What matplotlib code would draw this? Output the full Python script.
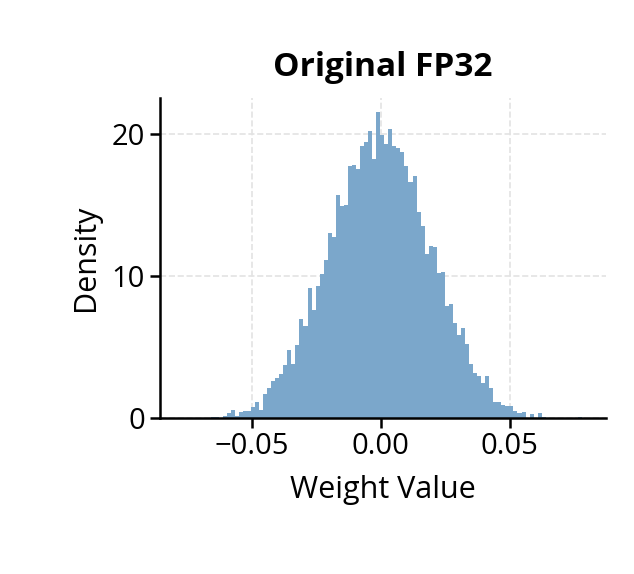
import numpy as np
import matplotlib
matplotlib.use("Agg")
import matplotlib.pyplot as plt

plt.rcParams['font.family'] = ['Open Sans', 'DejaVu Sans']

x_min, x_max = -0.0660, 0.0780
density = [0.07, 0.07, 0, 0.14, 0.36, 0.57, 0.14, 0.43, 0.5, 0.5,
           0.78, 1.14, 0.57, 1.71, 2.07, 2.57, 2.78, 3.06, 3.7, 4.77,
           3.78, 5.13, 6.98, 6.48, 9.12, 7.62, 9.26, 10.1, 11.1, 13.0,
           12.7, 15.7, 14.9, 15.0, 17.7, 17.8, 17.5, 19.1, 19.4, 20.2,
           18.2, 21.5, 19.9, 19.3, 20.3, 19.1, 19.0,
           18.7, 17.7, 16.6, 17.0, 14.5, 13.5, 11.5, 12.1, 12.0, 10.2,
           10.3, 7.9, 8.0, 6.7, 5.85, 6.3, 5.2, 3.78, 3.14, 2.92,
           2.42, 2.92, 2.07, 1.14, 1.14, 0.93, 0.86, 0.86, 0.5, 0.36,
           0.43, 0, 0.28, 0, 0.36, 0.07,
           0, 0, 0, 0, 0, 0, 0, 0, 0.07]

edges = np.linspace(x_min, x_max, len(density) + 1)

fig = plt.figure(figsize=(6.34, 5.74), dpi=100)
ax = fig.add_axes([0.252, 0.272, 0.704, 0.557])
ax.bar(edges[:-1], density, width=np.diff(edges), align='edge',
       color='#7ba7cb', linewidth=0, zorder=2)
ax.set_xlim(-0.0857, 0.0873)
ax.set_ylim(0, 22.5)
ax.set_xticks([-0.05, 0, 0.05])
ax.set_xticklabels(['\u22120.05', '0.00', '0.05'])
ax.set_yticks([0, 10, 20])
ax.grid(True, linestyle='--', color='#e3e3e3', linewidth=1.2, zorder=0)
ax.set_axisbelow(True)
for s in ['top', 'right']:
    ax.spines[s].set_visible(False)
for s in ['left', 'bottom']:
    ax.spines[s].set_linewidth(1.8)
ax.tick_params(labelsize=21, width=1.8, length=7)
ax.set_xlabel('Weight Value', fontsize=22, labelpad=10)
ax.set_ylabel('Density', fontsize=22, labelpad=8)
ax.set_title('Original FP32', fontsize=24, fontweight='bold', pad=16)
fig.savefig('out.png', dpi=100)
